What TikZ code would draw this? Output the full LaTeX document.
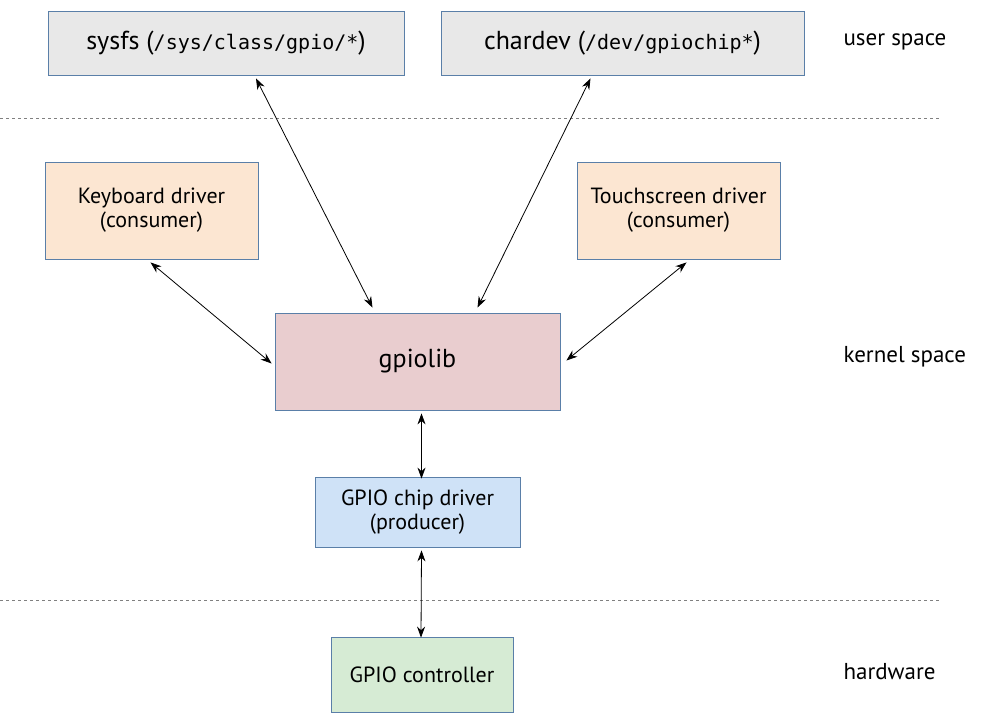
\documentclass[tikz,border=0pt]{standalone}
\usepackage{fontspec}
\setmainfont{PT Sans}
\newfontfamily\monof{DejaVu Sans Mono}
\usetikzlibrary{arrows.meta}
\definecolor{bord}{HTML}{5A7FA8}
\definecolor{grayf}{HTML}{E8E8E8}
\definecolor{peach}{HTML}{FCE6D2}
\definecolor{pinkf}{HTML}{E9CDCF}
\definecolor{bluef}{HTML}{CFE2F7}
\definecolor{greenf}{HTML}{D6EBD4}
\begin{document}
\begin{tikzpicture}[x=1pt,y=-1pt,
 box/.style={draw=bord,line width=0.8pt,inner sep=0pt,align=center,font=\fontsize{22}{24}\selectfont},
 arr/.style={{Stealth[length=11pt,width=8pt]}-{Stealth[length=11pt,width=8pt]},line width=0.8pt},
 lbl/.style={font=\fontsize{23}{25}\selectfont,anchor=west},
 sep/.style={dashed,line width=0.7pt,gray}]
\useasboundingbox (0,0) rectangle (997,723);
\node[box,fill=grayf,minimum width=356pt,minimum height=64pt,font=\fontsize{26}{28}\selectfont] (sysfs) at (226,43) {sysfs ({\monof\fontsize{20}{22}\selectfont /sys/class/gpio/*})};
\node[box,fill=grayf,minimum width=363pt,minimum height=64pt,font=\fontsize{26}{28}\selectfont] (chardev) at (622.5,43) {chardev ({\monof\fontsize{20}{22}\selectfont /dev/gpiochip*})};
\node[lbl] (us) at (840,42) {user space};
\draw[sep] (0,118) -- (940,118);
\node[box,fill=peach,minimum width=213pt,minimum height=97pt] (kbd) at (151.5,210.5) {Keyboard driver\\(consumer)};
\node[box,fill=peach,minimum width=203pt,minimum height=97pt] (ts) at (678.5,210.5) {Touchscreen driver\\(consumer)};
\node[box,fill=pinkf,minimum width=285pt,minimum height=97pt,font=\fontsize{26}{28}\selectfont] (lib) at (417.5,361.5) {gpiolib};
\node[lbl] (ks) at (840,357) {kernel space};
\node[box,fill=bluef,minimum width=205pt,minimum height=70pt] (chip) at (417.5,512) {GPIO chip driver\\(producer)};
\draw[sep] (0,600) -- (940,600);
\node[box,fill=greenf,minimum width=182pt,minimum height=75pt] (ctl) at (422,674.5) {GPIO controller};
\node[lbl] (hw) at (840,672) {hardware};
\draw[arr] ([xshift=30pt,yshift=-3pt]sysfs.south) -- ([xshift=-45pt,yshift=5pt]lib.north);
\draw[arr] ([xshift=-32pt,yshift=-3pt]chardev.south) -- ([xshift=60pt,yshift=5pt]lib.north);
\draw[arr] ([xshift=-1pt,yshift=-3pt]kbd.south) -- ([xshift=-3pt,yshift=-2pt]lib.west);
\draw[arr] ([xshift=8pt,yshift=-3pt]ts.south) -- ([xshift=6pt,yshift=1pt]lib.east);
\draw[arr] ([xshift=4pt,yshift=-3pt]lib.south) -- ([xshift=4pt,yshift=-2pt]chip.north);
\draw[arr] ([xshift=4pt,yshift=-3pt]chip.south) -- ([xshift=-1pt,yshift=-1pt]ctl.north);
\end{tikzpicture}
\end{document}
